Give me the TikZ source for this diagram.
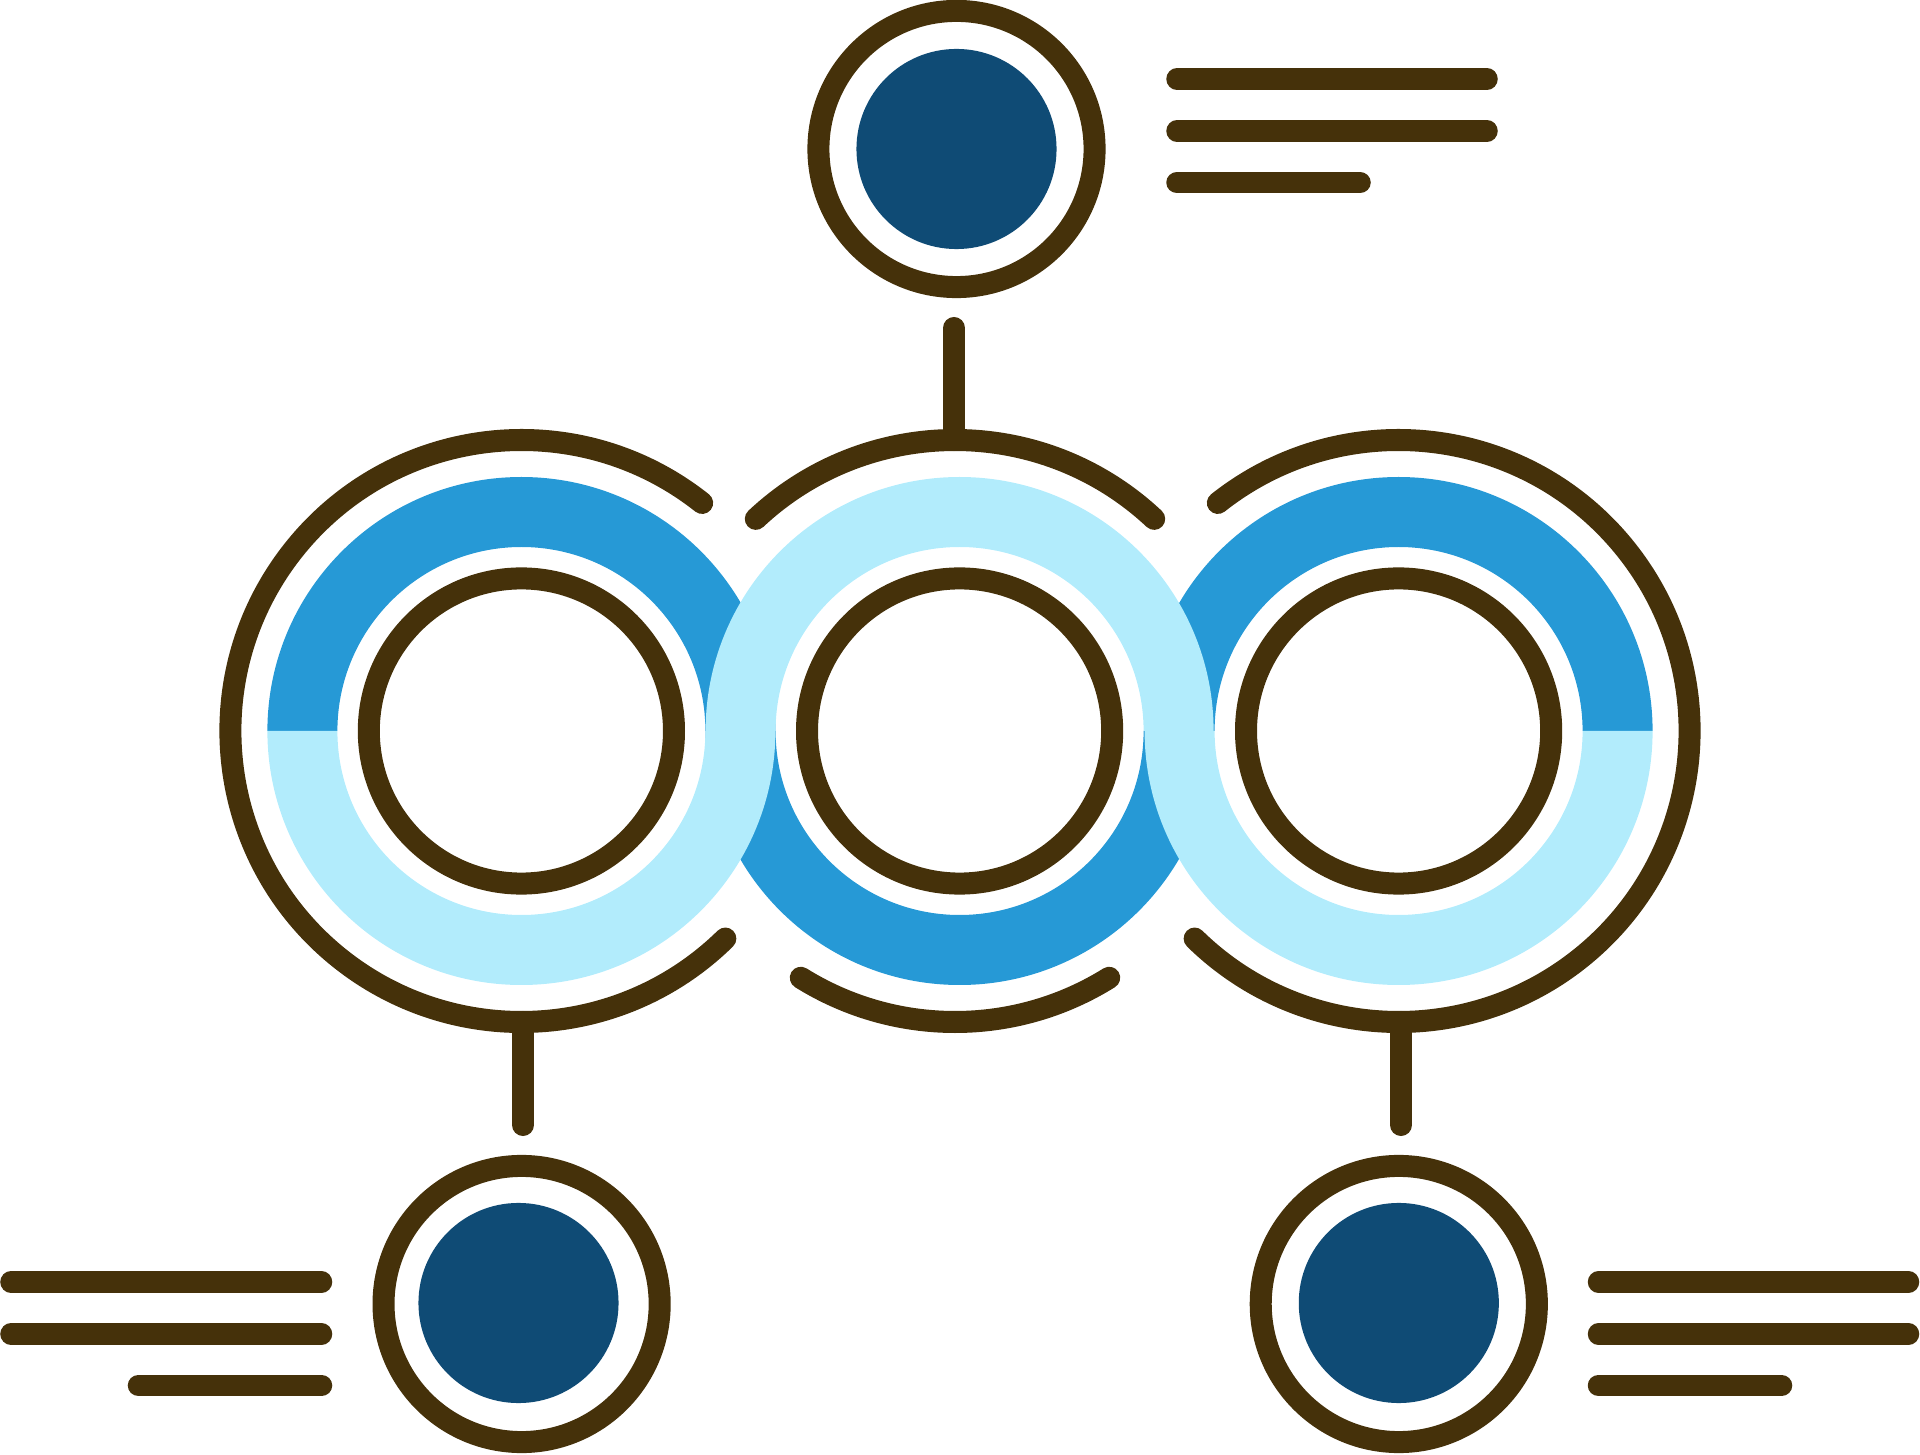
\documentclass[tikz,border=0pt]{standalone}
\definecolor{brown}{HTML}{45310A}
\definecolor{navy}{HTML}{0F4B75}
\definecolor{midblue}{HTML}{2699D6}
\definecolor{lightblue}{HTML}{B2ECFC}
\tikzset{
  stroke/.style={draw=brown, line width=0.22cm, line cap=round},
  ringnode/.style={circle, draw=brown, line width=0.22cm, inner sep=0pt, minimum size=2.76cm},
  dotnode/.style={circle, fill=navy, inner sep=0pt, minimum size=2.0cm},
  bigring/.style={circle, draw=brown, line width=0.22cm, inner sep=0pt, minimum size=3.05cm},
  textline/.style={draw=brown, line width=0.215cm, line cap=round}
}
\begin{document}
\begin{tikzpicture}[x=0.01cm, y=0.01cm]
\useasboundingbox (0,0) rectangle (1920,-1455);

% centres of the three big rings
\coordinate (cL) at (521.4,-731);
\coordinate (cM) at (959.6,-731);
\coordinate (cR) at (1398.6,-731);
\coordinate (aM) at (955,-731);

% dark halves of the bands
\fill[midblue] (cL) ++(254,0) arc[start angle=0, end angle=180, radius=254]
  -- ++(70,0) arc[start angle=180, end angle=0, radius=184] -- cycle;
\fill[midblue] (cM) ++(254,0) arc[start angle=0, end angle=-180, radius=254]
  -- ++(70,0) arc[start angle=-180, end angle=0, radius=184] -- cycle;
\fill[midblue] (cR) ++(254,0) arc[start angle=0, end angle=180, radius=254]
  -- ++(70,0) arc[start angle=180, end angle=0, radius=184] -- cycle;
% light halves of the bands
\fill[lightblue] (cL) ++(254,0) arc[start angle=0, end angle=-180, radius=254]
  -- ++(70,0) arc[start angle=-180, end angle=0, radius=184] -- cycle;
\fill[lightblue] (cM) ++(254,0) arc[start angle=0, end angle=180, radius=254]
  -- ++(70,0) arc[start angle=180, end angle=0, radius=184] -- cycle;
\fill[lightblue] (cR) ++(254,0) arc[start angle=0, end angle=-180, radius=254]
  -- ++(70,0) arc[start angle=-180, end angle=0, radius=184] -- cycle;

% inner rings
\node[bigring] (ringL) at (cL) {};
\node[bigring] (ringM) at (cM) {};
\node[bigring] (ringR) at (cR) {};

% outer broken arcs
\draw[stroke] (cL) ++(51.6:291) arc[start angle=51.6, end angle=314.5, radius=291];
\draw[stroke] (aM) ++(46.8:291) arc[start angle=46.8, end angle=133.2, radius=291];
\draw[stroke] (aM) ++(238:291) arc[start angle=238, end angle=302, radius=291];
\draw[stroke] (cR) ++(128.4:291) arc[start angle=128.4, end angle=-134.5, radius=291];

% small circles
\node[ringnode] (topC) at (956.5,-149) {};
\node[dotnode] (topD) at (956.5,-149) {};
\node[ringnode] (blC) at (521.6,-1304) {};
\node[dotnode] (blD) at (518.5,-1303) {};
\node[ringnode] (brC) at (1398.8,-1304) {};
\node[dotnode] (brD) at (1398.8,-1303) {};

% connectors
\coordinate (tA) at (954,-328);
\coordinate (tB) at (954,-440);
\coordinate (lA) at (523,-1022);
\coordinate (lB) at (523,-1125);
\coordinate (rA) at (1401,-1022);
\coordinate (rB) at (1401,-1125);
\draw[stroke] (tA) -- (tB);
\draw[stroke] (lA) -- (lB);
\draw[stroke] (rA) -- (rB);

% text placeholder lines, top
\coordinate (t1a) at (1177,-79);  \coordinate (t1b) at (1487,-79);
\coordinate (t2a) at (1177,-131); \coordinate (t2b) at (1487,-131);
\coordinate (t3a) at (1177,-182.6); \coordinate (t3b) at (1360,-182.6);
\draw[textline] (t1a) -- (t1b);
\draw[textline] (t2a) -- (t2b);
\draw[textline] (t3a) -- (t3b);

% bottom left
\coordinate (l1a) at (11,-1282);  \coordinate (l1b) at (321.5,-1282);
\coordinate (l2a) at (11,-1334);  \coordinate (l2b) at (321.5,-1334);
\coordinate (l3a) at (138.5,-1385.5); \coordinate (l3b) at (321.5,-1385.5);
\draw[textline] (l1a) -- (l1b);
\draw[textline] (l2a) -- (l2b);
\draw[textline] (l3a) -- (l3b);

% bottom right
\coordinate (r1a) at (1598.5,-1282);  \coordinate (r1b) at (1908.5,-1282);
\coordinate (r2a) at (1598.5,-1334);  \coordinate (r2b) at (1908.5,-1334);
\coordinate (r3a) at (1598.5,-1385.5); \coordinate (r3b) at (1781.5,-1385.5);
\draw[textline] (r1a) -- (r1b);
\draw[textline] (r2a) -- (r2b);
\draw[textline] (r3a) -- (r3b);
\end{tikzpicture}
\end{document}
